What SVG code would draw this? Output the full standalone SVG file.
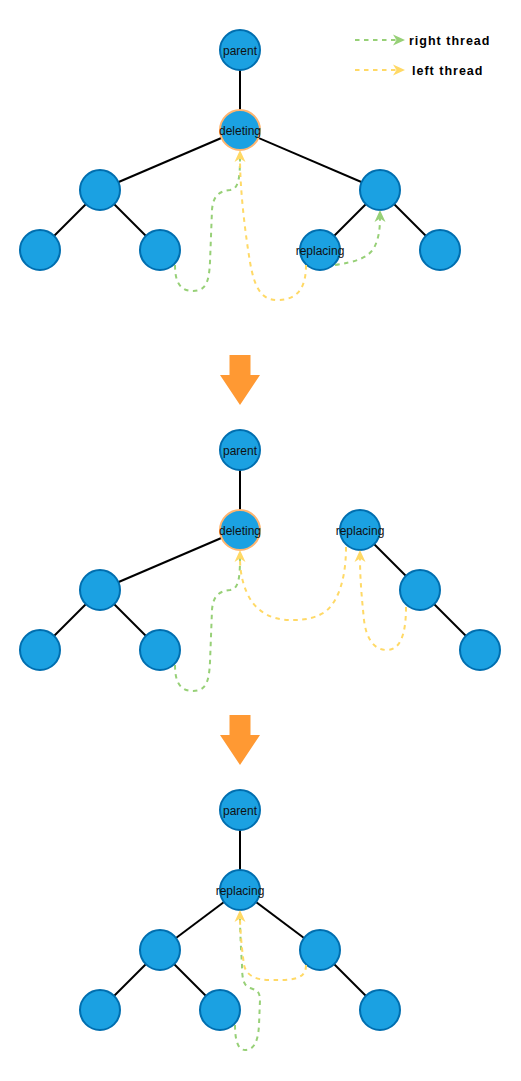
<svg xmlns="http://www.w3.org/2000/svg" width="521" height="1081" viewBox="0 0 521 1081">
<style>
.n{fill:#1BA1E2;stroke:#006EAF;stroke-width:2}
.d{fill:#1BA1E2;stroke:#FFB570;stroke-width:2}
.e{stroke:#000;stroke-width:2;fill:none}
.g{stroke:#97D077;stroke-width:2;stroke-dasharray:4.5 4.5;fill:none}
.y{stroke:#FFD966;stroke-width:2;stroke-dasharray:4.5 4.5;fill:none}
.gh{fill:#97D077}
.yh{fill:#FFD966}
.t{font-family:"Liberation Sans",Arial,sans-serif;font-size:12px;fill:#111;text-anchor:middle}
.l{font-family:"Liberation Sans",Arial,sans-serif;font-size:12.5px;font-weight:bold;fill:#000;letter-spacing:1px}
.o{fill:#FF9933}
</style>
<defs>
<path id="up" d="M0,0 L5.5,12 L0,8.5 L-5.5,12 Z"/>
<path id="right" d="M0,0 L-12,5.5 L-8.5,0 L-12,-5.5 Z"/>
</defs>
<g id="legend">
<path class="g" d="M355,40 L398,40"/>
<use href="#right" class="gh" x="405" y="40"/>
<text class="l" x="409" y="45">right thread</text>
<path class="y" d="M355,70 L398,70"/>
<use href="#right" class="yh" x="405" y="70"/>
<text class="l" x="412" y="74.5">left thread</text>
</g>
<g id="edges">
<line class="e" x1="240" y1="50" x2="240" y2="130"/>
<line class="e" x1="240" y1="130" x2="100" y2="190"/>
<line class="e" x1="240" y1="130" x2="380" y2="190"/>
<line class="e" x1="100" y1="190" x2="40" y2="250"/>
<line class="e" x1="100" y1="190" x2="160" y2="250"/>
<line class="e" x1="380" y1="190" x2="320" y2="250"/>
<line class="e" x1="380" y1="190" x2="440" y2="250"/>
<line class="e" x1="240" y1="450" x2="240" y2="530"/>
<line class="e" x1="240" y1="530" x2="100" y2="590"/>
<line class="e" x1="100" y1="590" x2="40" y2="650"/>
<line class="e" x1="100" y1="590" x2="160" y2="650"/>
<line class="e" x1="360" y1="530" x2="420" y2="590"/>
<line class="e" x1="420" y1="590" x2="480" y2="650"/>
<line class="e" x1="240" y1="810" x2="240" y2="890"/>
<line class="e" x1="240" y1="890" x2="160" y2="950"/>
<line class="e" x1="240" y1="890" x2="320" y2="950"/>
<line class="e" x1="160" y1="950" x2="100" y2="1010"/>
<line class="e" x1="160" y1="950" x2="220" y2="1010"/>
<line class="e" x1="320" y1="950" x2="380" y2="1010"/>
</g>
<g id="p1-parent"><circle class="n" cx="240" cy="50" r="20"/><text class="t" x="240" y="54.5">parent</text></g>
<g id="p1-deleting"><circle class="d" cx="240" cy="130" r="20"/><text class="t" x="240" y="134.5">deleting</text></g>
<g id="p1-l"><circle class="n" cx="100" cy="190" r="20"/></g>
<g id="p1-r"><circle class="n" cx="380" cy="190" r="20"/></g>
<g id="p1-ll"><circle class="n" cx="40" cy="250" r="20"/></g>
<g id="p1-lr"><circle class="n" cx="160" cy="250" r="20"/></g>
<g id="p1-replacing"><circle class="n" cx="320" cy="250" r="20"/><text class="t" x="320" y="254.5">replacing</text></g>
<g id="p1-rr"><circle class="n" cx="440" cy="250" r="20"/></g>
<g id="p2-parent"><circle class="n" cx="240" cy="450" r="20"/><text class="t" x="240" y="454.5">parent</text></g>
<g id="p2-deleting"><circle class="d" cx="240" cy="530" r="20"/><text class="t" x="240" y="534.5">deleting</text></g>
<g id="p2-l"><circle class="n" cx="100" cy="590" r="20"/></g>
<g id="p2-ll"><circle class="n" cx="40" cy="650" r="20"/></g>
<g id="p2-lr"><circle class="n" cx="160" cy="650" r="20"/></g>
<g id="p2-replacing"><circle class="n" cx="360" cy="530" r="20"/><text class="t" x="360" y="534.5">replacing</text></g>
<g id="p2-rc"><circle class="n" cx="420" cy="590" r="20"/></g>
<g id="p2-rcr"><circle class="n" cx="480" cy="650" r="20"/></g>
<g id="p3-parent"><circle class="n" cx="240" cy="810" r="20"/><text class="t" x="240" y="814.5">parent</text></g>
<g id="p3-replacing"><circle class="n" cx="240" cy="890" r="20"/><text class="t" x="240" y="894.5">replacing</text></g>
<g id="p3-l"><circle class="n" cx="160" cy="950" r="20"/></g>
<g id="p3-r"><circle class="n" cx="320" cy="950" r="20"/></g>
<g id="p3-ll"><circle class="n" cx="100" cy="1010" r="20"/></g>
<g id="p3-lr"><circle class="n" cx="220" cy="1010" r="20"/></g>
<g id="p3-rr"><circle class="n" cx="380" cy="1010" r="20"/></g>
<g id="arrows">
<polygon class="o" points="229.5,355 250.5,355 250.5,375 260,375 240,405 220,375 229.5,375"/>
<polygon class="o" points="229.5,715 250.5,715 250.5,735 260,735 240,765 220,735 229.5,735"/>
</g>
<g id="threads">
<path class="g" d="M175,265 C175,282 180,291 193,291 C206,291 209,282 210,262 L212,210 C213,195 220,191 230,190 C238,189 240,180 240,158"/>
<path class="g" d="M335,265 C355,262 368,258 374,248 C379,238 380,228 380,218"/>
<use href="#up" class="gh" x="380" y="210"/>
<path class="y" d="M306,265 C306,290 296,300 277,300 C260,300 254,285 250,262 C245,232 240,190 240,158"/>
<use href="#up" class="yh" x="240" y="150"/>
<path class="g" d="M175,665 C175,682 180,691 193,691 C206,691 209,682 210,662 L212,610 C213,595 220,591 230,590 C238,589 240,580 240,558"/>
<path class="y" d="M346,547 C346,575 340,600 325,612 C312,620 300,620 290,620 C270,620 255,610 248,595 C242,583 240,570 240,558"/>
<use href="#up" class="yh" x="240" y="550"/>
<path class="y" d="M406,607 C406,635 400,650 387,650 C373,650 366,637 364,620 C362,600 360,580 360,558"/>
<use href="#up" class="yh" x="360" y="550"/>
<path class="g" d="M235,1025 C235,1045 240,1050 245,1050 C252,1050 258,1045 259,1025 L260,1000 C260,990 255,990 250,988 C244,986 242,980 242,965 C241,950 240,930 240,918"/>
<path class="y" d="M306,965 C306,975 300,979 285,980 L270,980 C255,980 246,975 244,965 C242,950 240,930 240,918"/>
<use href="#up" class="yh" x="240" y="910"/>
</g>
</svg>
